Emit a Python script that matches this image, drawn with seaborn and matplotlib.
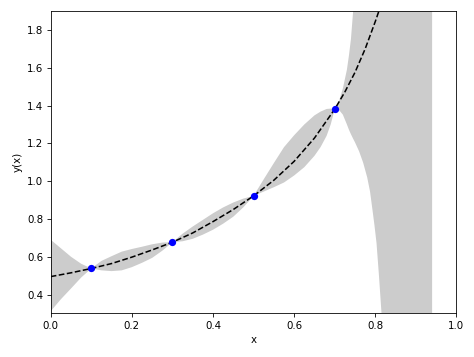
import matplotlib
matplotlib.use("Agg")
import matplotlib.pyplot as plt
import seaborn as sns
import pandas as pd

# True function (dashed curve)
line_x = [0.0, 0.05, 0.1, 0.15, 0.2, 0.25, 0.3, 0.35, 0.4, 0.45, 0.5,
          0.55, 0.6, 0.65, 0.7, 0.725, 0.75, 0.775, 0.8, 0.82]
line_y = [0.495, 0.515, 0.538, 0.564, 0.598, 0.636, 0.677, 0.726, 0.786, 0.850, 0.922,
          1.005, 1.105, 1.228, 1.381, 1.472, 1.576, 1.700, 1.845, 1.970]

# Observed points
pts_x = [0.1, 0.3, 0.5, 0.7]
pts_y = [0.538, 0.677, 0.922, 1.381]

# Uncertainty band (upper / lower edges)
band_x = [0.0, 0.025, 0.05, 0.075, 0.1, 0.125, 0.15, 0.175, 0.2, 0.225, 0.25, 0.275, 0.3,
          0.325, 0.35, 0.375, 0.4, 0.425, 0.45, 0.475, 0.5,
          0.525, 0.55, 0.575, 0.6, 0.625, 0.65, 0.665, 0.68, 0.69, 0.7,
          0.71, 0.72, 0.73, 0.735, 0.74, 0.745, 0.75, 0.76, 0.77, 0.78, 0.787,
          0.793, 0.798, 0.803, 0.809, 0.815, 0.82, 0.85, 0.9, 0.94]
band_hi = [0.690, 0.645, 0.600, 0.563, 0.538, 0.578, 0.603, 0.627, 0.641, 0.653, 0.666, 0.675, 0.677,
           0.722, 0.760, 0.795, 0.830, 0.861, 0.887, 0.908, 0.922,
           1.010, 1.096, 1.180, 1.243, 1.300, 1.348, 1.368, 1.382, 1.384, 1.381,
           1.420, 1.490, 1.590, 1.665, 1.753, 1.890, 2.050, 2.400, 2.900, 3.400, 3.700,
           4.000, 4.250, 4.500, 4.800, 5.200, 5.500, 7.500, 12.00, 18.00]
band_lo = [0.312, 0.375, 0.432, 0.490, 0.538, 0.528, 0.524, 0.528, 0.545, 0.568, 0.594, 0.632, 0.677,
           0.682, 0.695, 0.717, 0.743, 0.775, 0.812, 0.862, 0.922,
           0.945, 0.968, 0.993, 1.030, 1.074, 1.134, 1.180, 1.240, 1.300, 1.381,
           1.378, 1.352, 1.300, 1.272, 1.248, 1.226, 1.205, 1.158, 1.098, 1.020, 0.945,
           0.848, 0.765, 0.672, 0.500, 0.310, 0.150, -1.00, -6.00, -12.0]

line_df = pd.DataFrame({"x": line_x, "y": line_y})
pts_df = pd.DataFrame({"x": pts_x, "y": pts_y})

fig, ax = plt.subplots(figsize=(474 / 74, 357 / 74), dpi=74)
fig.subplots_adjust(left=0.107, right=0.963, bottom=0.122, top=0.969)

ax.fill_between(band_x, band_lo, band_hi, color="0.8", linewidth=0)
sns.lineplot(data=line_df, x="x", y="y", ax=ax, color="k", linestyle="--", linewidth=1.5)
sns.scatterplot(data=pts_df, x="x", y="y", ax=ax, color="blue", s=50, linewidth=0, zorder=3)

ax.set_xlim(0, 1)
ax.set_ylim(0.3, 1.9)
ax.set_xlabel("x")
ax.set_ylabel("y(x)")

fig.savefig("out.png", dpi=74)
